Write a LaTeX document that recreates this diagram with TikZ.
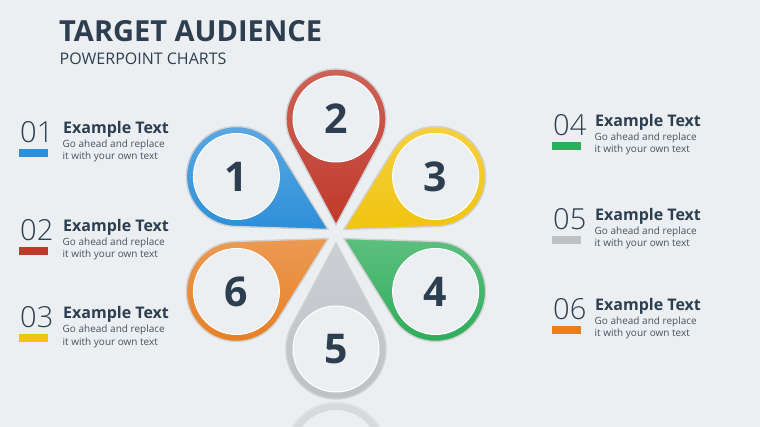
\documentclass[tikz,border=0pt]{standalone}
\usepackage{fontspec}
\setmainfont{Open Sans}
\newfontfamily\lightfont{Open Sans Light}
\usetikzlibrary{calc}
\definecolor{bg}{HTML}{ECEFF1}
\definecolor{navy}{HTML}{2C3E50}
\definecolor{subtxt}{HTML}{46535F}
\definecolor{cblue}{HTML}{2D8FD9}
\definecolor{cred}{HTML}{C0392B}
\definecolor{cyellow}{HTML}{F1C40F}
\definecolor{cgreen}{HTML}{2EAD5B}
\definecolor{cgray}{HTML}{BDC1C6}
\definecolor{corange}{HTML}{E67E22}
\tikzset{
  petalshape/.style={draw=black!18, line width=1.4pt},
  innercircle/.style={circle, minimum size=86pt, inner sep=0pt, fill=bg, draw=white, line width=1pt},
  bignum/.style={font=\bfseries\fontsize{41}{41}\selectfont, text=navy, inner sep=0pt},
  rownum/.style={anchor=base west, font=\lightfont\fontsize{29}{29}\selectfont, text=navy, inner sep=0pt},
  head/.style={anchor=base west, font=\bfseries\fontsize{16}{16}\selectfont, text=navy, inner sep=0pt},
  subt/.style={anchor=base west, font=\fontsize{10}{12}\selectfont, text=subtxt, inner sep=0pt},
}
\newcommand\mypetal[4]{%
  \coordinate (#1) at ($(C)+(#2:\pR)$);
  \coordinate (#1tip) at ($(C)+(#2:\ptip)$);
  \draw[petalshape, top color=#3!78!white, bottom color=#3]
    (#1tip) -- ($(#1)+({#2+180+\pth}:\pro)$)
    arc[start angle={#2+180+\pth}, end angle={#2+540-\pth}, radius=\pro] -- cycle;
  \node[innercircle] (#1c) at (#1) {};
  \node[bignum] (#1n) at (#1) {#4};
}
\newcommand\myrow[6]{% name, numx, headx, y, number, color
  \node[head] (#1h) at (#3,#4) {Example Text};
  \node[rownum] (#1n) at (#2,#4+9) {#5};
  \node[subt] (#1s) at (#3-0.5,#4+13.5) {Go ahead and replace};
  \node[subt] (#1t) at (#3-0.5,#4+26) {it with your own text};
  \fill[#6] (#2-1,#4+15) rectangle (#2+28,#4+23.5);
}
\begin{document}
\begin{tikzpicture}[x=1pt,y=-1pt]
\fill[bg] (0,0) rectangle (760,427);
\useasboundingbox (0,0) rectangle (760,427);
\pgfmathsetmacro\pR{115}
\pgfmathsetmacro\ptip{9}
\pgfmathsetmacro\pro{50}
\pgfmathsetmacro\pth{acos(\pro/(\pR-\ptip))}
\coordinate (C) at (336,234);
% reflection
\begin{scope}
  \clip (0,401) rectangle (760,427);
  \draw[cgray, opacity=0.45, line width=7pt] (336,453) circle[radius=46.5];
  \draw[black!15, opacity=0.5, line width=1pt] (336,453) circle[radius=51];
\end{scope}
\mypetal{p1}{210}{cblue}{1}
\mypetal{p2}{-90}{cred}{2}
\mypetal{p3}{-30}{cyellow}{3}
\mypetal{p4}{30}{cgreen}{4}
\mypetal{p5}{90}{cgray}{5}
\mypetal{p6}{150}{corange}{6}
% title
\node[anchor=base west, inner sep=0pt, font=\bfseries\fontsize{29}{29}\selectfont, text=navy] (title) at (59,42) {TARGET AUDIENCE};
\node[anchor=base west, inner sep=0pt, font=\fontsize{16}{16}\selectfont, text=navy] (subtitle) at (59.5,65) {POWERPOINT CHARTS};
% rows
\myrow{r1}{20}{63}{134}{01}{cblue}
\myrow{r2}{20}{63}{232}{02}{cred}
\myrow{r3}{20}{63}{319}{03}{cyellow}
\myrow{r4}{553}{595}{127}{04}{cgreen}
\myrow{r5}{553}{595}{221}{05}{cgray}
\myrow{r6}{553}{595}{311}{06}{corange}
\end{tikzpicture}
\end{document}
